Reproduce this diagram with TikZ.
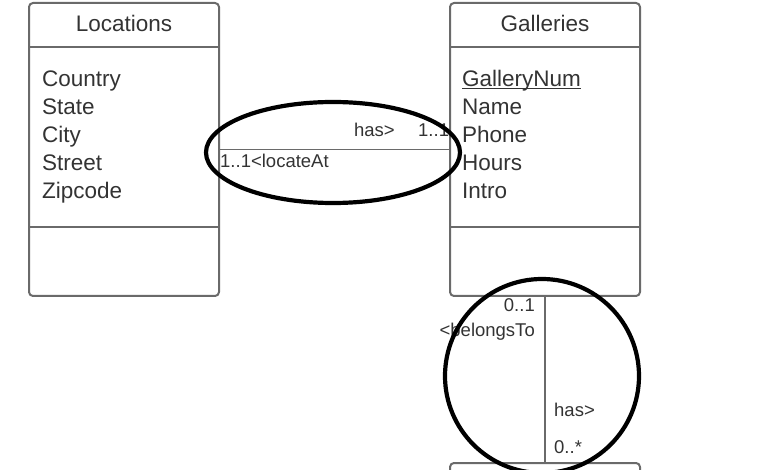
\documentclass[tikz,border=0pt]{standalone}
\usepackage{fontspec}
\setmainfont{Liberation Sans}
\usetikzlibrary{shapes.geometric}
\definecolor{boxgray}{HTML}{6A6A6A}
\definecolor{txtgray}{HTML}{333333}
\tikzstyle{cbox}=[draw=boxgray, line width=2pt, rounded corners=4pt, minimum width=190pt, minimum height=293pt, inner sep=0pt]
\tikzstyle{csep}=[draw=boxgray, line width=2pt]
\tikzstyle{ctitle}=[text=txtgray, font=\fontsize{22.5}{27}\selectfont, inner sep=0pt]
\tikzstyle{cattr}=[text=txtgray, font=\fontsize{22.5}{27}\selectfont, anchor=base west, inner sep=0pt]
\tikzstyle{clbl}=[text=txtgray, font=\fontsize{18.5}{22}\selectfont, inner sep=0pt]
\tikzstyle{conn}=[draw=boxgray, line width=1.5pt]
\tikzstyle{ring}=[draw=black, line width=4.2pt, inner sep=0pt]

\begin{document}
\begin{tikzpicture}[x=1pt, y=-1pt]

\useasboundingbox (0,0) rectangle (766,470);
\clip (0,0) rectangle (766,470);

% class boxes
\node[cbox] (loc) at (124,149.5) {};
\node[cbox] (gal) at (545,149.5) {};
\node[cbox] (low) at (545,609.5) {};
\foreach \b in {loc,gal,low} {
  \draw[csep] ([yshift=-45pt]\b.north west) -- ([yshift=-45pt]\b.north east);
  \draw[csep] ([yshift=-225pt]\b.north west) -- ([yshift=-225pt]\b.north east);
}

\node[ctitle] (loct) at (124,23) {Locations};
\node[ctitle] (galt) at (545,23) {Galleries};

\foreach \t [count=\i] in {Country,State,City,Street,Zipcode}
  \node[cattr] (la\i) at (42,58.5+28*\i) {\t};
\foreach \t [count=\i] in {\underline{\smash{GalleryNum}},Name,Phone,Hours,Intro}
  \node[cattr] (ga\i) at (462,58.5+28*\i) {\t};

% associations
\draw[conn] (loc) -- (gal);
\draw[conn] (gal) -- (low);

\node[clbl, anchor=base east] (r1) at (395,137) {has>};
\node[clbl, anchor=base west] (r2) at (418,137) {1..1};
\node[clbl, anchor=base west] (r3) at (220,168) {1..1<locateAt};

\node[clbl, anchor=base east] (r4) at (535,312) {0..1};
\node[clbl, anchor=base east] (r5) at (535,337) {<belongsTo};
\node[clbl, anchor=base west] (r6) at (554,417) {has>};
\node[clbl, anchor=base west] (r7) at (554,453) {0..*};

% hand drawn marks
\node[ring, ellipse, minimum width=254pt, minimum height=101pt] (oval) at (333,152.5) {};
\node[ring, circle, minimum size=194pt] (round) at (542,376) {};

\end{tikzpicture}
\end{document}
